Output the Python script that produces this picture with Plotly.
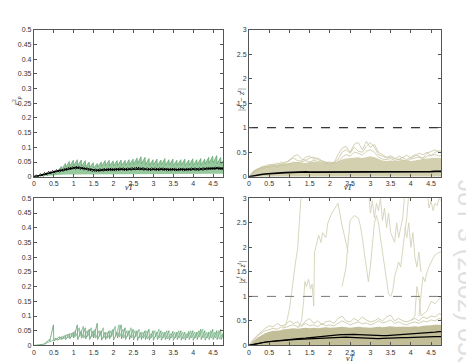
import plotly.graph_objects as go

# ---------------- data ----------------
T = [round(0.1 * i, 1) for i in range(49)]          # nu*T grid 0 .. 4.8
xticks = [0, 0.5, 1, 1.5, 2, 2.5, 3, 3.5, 4, 4.5]
xticktext = ["0", "0.5", "1", "1.5", "2", "2.5", "3", "3.5", "4", "4.5"]
yl_ticks = [0, 0.05, 0.1, 0.15, 0.2, 0.25, 0.3, 0.35, 0.4, 0.45, 0.5]
yl_text = ["0", "0.05", "0.1", "0.15", "0.2", "0.25", "0.3", "0.35", "0.4", "0.45", "0.5"]
yr_ticks = [0, 0.5, 1, 1.5, 2, 2.5, 3]
yr_text = ["0", "0.5", "1", "1.5", "2", "2.5", "3"]

# top-left: green ensemble band (sawtooth), lower edge, black mean
tl_trough = [0, 0.002, 0.005, 0.008, 0.01, 0.013, 0.018, 0.025, 0.032, 0.036, 0.038, 0.038,
             0.036, 0.034, 0.032, 0.03, 0.033, 0.036, 0.038, 0.037, 0.037, 0.038, 0.038, 0.039,
             0.04, 0.042, 0.045, 0.044, 0.041, 0.039, 0.04, 0.038, 0.041, 0.039, 0.04, 0.038,
             0.039, 0.04, 0.038, 0.04, 0.039, 0.041, 0.04, 0.043, 0.046, 0.047, 0.044, 0.042]
tl_peak = [0.003, 0.006, 0.01, 0.013, 0.016, 0.022, 0.035, 0.045, 0.052, 0.056, 0.058, 0.057,
           0.055, 0.05, 0.048, 0.045, 0.05, 0.055, 0.056, 0.054, 0.055, 0.057, 0.056, 0.058,
           0.06, 0.064, 0.068, 0.066, 0.062, 0.058, 0.06, 0.057, 0.062, 0.058, 0.06, 0.056,
           0.058, 0.06, 0.057, 0.061, 0.058, 0.062, 0.06, 0.066, 0.07, 0.072, 0.066, 0.063]
tl_lower = [0, 0.001, 0.002, 0.003, 0.004, 0.005, 0.006, 0.007, 0.008, 0.009, 0.01, 0.01,
            0.01, 0.009, 0.009, 0.008, 0.008, 0.009, 0.009, 0.009, 0.009, 0.009, 0.009, 0.009,
            0.009, 0.009, 0.01, 0.01, 0.009, 0.009, 0.009, 0.009, 0.009, 0.009, 0.009, 0.009,
            0.009, 0.009, 0.009, 0.009, 0.009, 0.009, 0.009, 0.01, 0.01, 0.01, 0.01, 0.01, 0.01]
tl_mean = [0, 0.002, 0.006, 0.01, 0.014, 0.017, 0.02, 0.022, 0.025, 0.028, 0.03, 0.031,
           0.029, 0.027, 0.024, 0.022, 0.022, 0.023, 0.024, 0.025, 0.024, 0.025, 0.026, 0.025,
           0.026, 0.027, 0.028, 0.027, 0.026, 0.025, 0.026, 0.025, 0.026, 0.025, 0.024, 0.025,
           0.024, 0.025, 0.024, 0.025, 0.026, 0.025, 0.026, 0.027, 0.028, 0.028, 0.029, 0.028, 0.028]

# top-right: khaki ensemble, black mean
tr_dense = [0, 0.12, 0.17, 0.2, 0.22, 0.23, 0.24, 0.25, 0.26, 0.27, 0.28, 0.3, 0.3, 0.29,
            0.28, 0.3, 0.31, 0.3, 0.29, 0.28, 0.27, 0.28, 0.32, 0.35, 0.37, 0.38, 0.4, 0.4,
            0.38, 0.4, 0.42, 0.4, 0.36, 0.33, 0.32, 0.33, 0.32, 0.33, 0.34, 0.33, 0.32, 0.33,
            0.35, 0.36, 0.37, 0.38, 0.39, 0.38, 0.37]
tr_a = [0, 0.1, 0.15, 0.2, 0.22, 0.25, 0.24, 0.28, 0.26, 0.3, 0.32, 0.42, 0.45, 0.36, 0.34,
        0.38, 0.4, 0.35, 0.32, 0.3, 0.28, 0.3, 0.35, 0.5, 0.55, 0.48, 0.6, 0.52, 0.5, 0.62,
        0.7, 0.6, 0.45, 0.42, 0.38, 0.4, 0.36, 0.42, 0.38, 0.35, 0.4, 0.45, 0.42, 0.38, 0.48,
        0.52, 0.55, 0.5, 0.48]
tr_b = [0, 0.08, 0.14, 0.18, 0.2, 0.22, 0.26, 0.23, 0.3, 0.27, 0.35, 0.38, 0.33, 0.32, 0.4,
        0.42, 0.36, 0.38, 0.33, 0.29, 0.3, 0.27, 0.45, 0.58, 0.62, 0.5, 0.66, 0.7, 0.55, 0.72,
        0.6, 0.66, 0.5, 0.45, 0.4, 0.43, 0.38, 0.35, 0.4, 0.44, 0.38, 0.42, 0.48, 0.45, 0.5,
        0.42, 0.5, 0.53, 0.5]
tr_c = [0, 0.1, 0.12, 0.16, 0.18, 0.2, 0.22, 0.2, 0.24, 0.23, 0.26, 0.3, 0.28, 0.3, 0.33,
        0.3, 0.34, 0.31, 0.3, 0.27, 0.26, 0.28, 0.3, 0.4, 0.45, 0.42, 0.5, 0.48, 0.44, 0.52,
        0.55, 0.5, 0.4, 0.36, 0.35, 0.37, 0.33, 0.36, 0.34, 0.32, 0.36, 0.38, 0.4, 0.36, 0.42,
        0.44, 0.45, 0.42, 0.44]
tr_mean = [0, 0.02, 0.035, 0.045, 0.055, 0.065, 0.07, 0.075, 0.08, 0.085, 0.09, 0.09, 0.095,
           0.1, 0.1, 0.095, 0.095, 0.09, 0.09, 0.09, 0.09, 0.09, 0.095, 0.1, 0.1, 0.1, 0.1,
           0.105, 0.1, 0.1, 0.1, 0.095, 0.095, 0.09, 0.09, 0.09, 0.09, 0.09, 0.095, 0.095, 0.1,
           0.1, 0.1, 0.1, 0.1, 0.105, 0.11, 0.11, 0.11]

# bottom-left: two green sawtooth records (ramp start values / ramp top values)
bl_t0 = [round(0.2 + 0.1 * i, 2) for i in range(46)]
bl_a_low = [0.003, 0.01, 0.015, 0.015, 0.018, 0.02, 0.02, 0.022, 0.025, 0.02, 0.025, 0.022,
            0.02, 0.025, 0.02, 0.018, 0.02, 0.022, 0.018, 0.025, 0.022, 0.02, 0.02, 0.018,
            0.017, 0.02, 0.02, 0.018, 0.017, 0.02, 0.018, 0.02, 0.018, 0.017, 0.02, 0.018,
            0.018, 0.02, 0.017, 0.02, 0.02, 0.018, 0.02, 0.02, 0.02, 0.02]
bl_a_high = [0.005, 0.02, 0.07, 0.025, 0.03, 0.035, 0.04, 0.045, 0.07, 0.05, 0.06, 0.055,
             0.05, 0.075, 0.05, 0.045, 0.05, 0.055, 0.045, 0.07, 0.06, 0.05, 0.055, 0.05,
             0.045, 0.05, 0.055, 0.05, 0.045, 0.05, 0.045, 0.05, 0.048, 0.045, 0.05, 0.045,
             0.048, 0.05, 0.045, 0.055, 0.05, 0.045, 0.055, 0.05, 0.055, 0.05]
bl_b_low = [0.005, 0.01, 0.015, 0.018, 0.02, 0.022, 0.025, 0.028, 0.03, 0.03, 0.025, 0.03,
            0.028, 0.025, 0.03, 0.025, 0.025, 0.03, 0.03, 0.028, 0.025, 0.03, 0.025, 0.028,
            0.025, 0.025, 0.022, 0.025, 0.028, 0.025, 0.025, 0.022, 0.025, 0.025, 0.025, 0.022,
            0.025, 0.025, 0.025, 0.028, 0.025, 0.025, 0.025, 0.025, 0.022, 0.025]
bl_b_high = [0.01, 0.015, 0.025, 0.03, 0.032, 0.038, 0.042, 0.05, 0.06, 0.065, 0.05, 0.06,
             0.055, 0.05, 0.06, 0.045, 0.05, 0.065, 0.07, 0.055, 0.05, 0.06, 0.05, 0.055,
             0.045, 0.05, 0.04, 0.05, 0.055, 0.045, 0.05, 0.04, 0.045, 0.05, 0.045, 0.04,
             0.05, 0.045, 0.05, 0.055, 0.045, 0.05, 0.045, 0.05, 0.04, 0.045]

# bottom-right: khaki ensemble, excursions, two black means
br_dense = [0, 0.08, 0.15, 0.2, 0.25, 0.28, 0.3, 0.3, 0.32, 0.33, 0.34, 0.35, 0.34, 0.35,
            0.36, 0.35, 0.36, 0.35, 0.36, 0.37, 0.36, 0.36, 0.37, 0.38, 0.37, 0.36, 0.37, 0.38,
            0.37, 0.36, 0.36, 0.37, 0.38, 0.37, 0.38, 0.39, 0.38, 0.38, 0.37, 0.37, 0.38, 0.39,
            0.38, 0.4, 0.4, 0.41, 0.42, 0.42, 0.42]
br_a = [0, 0.12, 0.2, 0.28, 0.35, 0.4, 0.38, 0.45, 0.4, 0.42, 0.5, 0.45, 0.48, 0.4, 0.5, 0.55,
        0.45, 0.5, 0.42, 0.48, 0.5, 0.45, 0.55, 0.6, 0.5, 0.48, 0.55, 0.5, 0.58, 0.52, 0.48,
        0.5, 0.55, 0.5, 0.58, 0.62, 0.5, 0.55, 0.5, 0.48, 0.52, 0.55, 0.5, 0.58, 0.55, 0.6,
        0.58, 0.65, 0.6]
br_b = [0, 0.1, 0.18, 0.25, 0.3, 0.32, 0.35, 0.33, 0.38, 0.36, 0.4, 0.42, 0.38, 0.4, 0.45,
        0.4, 0.42, 0.38, 0.45, 0.4, 0.42, 0.4, 0.45, 0.5, 0.46, 0.42, 0.45, 0.48, 0.44, 0.46,
        0.42, 0.45, 0.5, 0.46, 0.48, 0.52, 0.45, 0.48, 0.44, 0.42, 0.46, 0.48, 0.45, 0.5,
        0.48, 0.52, 0.5, 0.55, 0.52]
br_mean_a = [0, 0.02, 0.04, 0.055, 0.07, 0.08, 0.09, 0.1, 0.11, 0.115, 0.12, 0.13, 0.14,
             0.145, 0.15, 0.16, 0.17, 0.175, 0.18, 0.19, 0.2, 0.21, 0.215, 0.22, 0.225, 0.23,
             0.225, 0.22, 0.215, 0.21, 0.2, 0.2, 0.195, 0.2, 0.2, 0.205, 0.21, 0.215, 0.22,
             0.225, 0.23, 0.24, 0.245, 0.25, 0.26, 0.265, 0.27, 0.28, 0.285]
br_mean_b = [0, 0.02, 0.04, 0.055, 0.065, 0.075, 0.085, 0.09, 0.1, 0.105, 0.11, 0.12, 0.125,
             0.13, 0.135, 0.14, 0.145, 0.15, 0.15, 0.155, 0.16, 0.16, 0.165, 0.17, 0.17,
             0.165, 0.16, 0.16, 0.155, 0.15, 0.15, 0.145, 0.14, 0.145, 0.15, 0.15, 0.155,
             0.155, 0.16, 0.16, 0.165, 0.165, 0.17, 0.17, 0.175, 0.175, 0.18, 0.18, 0.18]
br_exc = [
    ([0.8, 0.9, 0.95, 1.0, 1.05, 1.1, 1.15, 1.2, 1.25, 1.3],
     [0.3, 0.4, 0.55, 0.75, 1.05, 1.4, 1.7, 1.95, 2.5, 3.2]),
    ([1.2, 1.3, 1.35, 1.38, 1.42, 1.47, 1.52, 1.56, 1.6, 1.62, 1.68, 1.72, 1.78, 1.82, 1.9,
      1.95, 2.05, 2.15, 2.2, 2.3, 2.4, 2.45],
     [0.35, 0.5, 0.9, 1.3, 1.2, 1.35, 1.15, 1.25, 0.8, 1.9, 2.1, 2.25, 2.1, 2.3, 2.2, 2.5,
      2.7, 2.85, 2.9, 2.45, 2.1, 1.9]),
    ([2.3, 2.4, 2.45, 2.5, 2.6, 2.7, 2.75, 2.8, 2.9, 2.95, 3.0, 3.05, 3.1, 3.15, 3.2, 3.3,
      3.4, 3.45, 3.5, 3.55, 3.6, 3.7, 3.75, 3.8, 3.85, 3.9, 3.95],
     [1.2, 1.6, 2.1, 2.55, 2.65, 2.6, 2.45, 2.2, 1.6, 1.3, 1.6, 2.0, 2.5, 2.65, 2.5, 1.9,
      1.3, 1.05, 1.0, 1.1, 1.4, 1.7, 1.6, 2.0, 2.3, 2.6, 3.1]),
    ([2.95, 3.0, 3.05, 3.1, 3.15, 3.2, 3.25, 3.3, 3.35, 3.4, 3.45, 3.5, 3.6, 3.65, 3.7, 3.8,
      3.85],
     [3.2, 2.7, 2.95, 2.6, 2.9, 2.75, 3.0, 2.55, 2.8, 2.4, 2.7, 2.3, 2.1, 2.5, 2.2, 2.6, 3.1]),
    ([3.85, 3.9, 3.95, 4.0, 4.05, 4.1, 4.15, 4.2, 4.25],
     [2.4, 2.2, 2.5, 2.0, 2.3, 1.8, 1.6, 1.9, 1.5]),
    ([4.2, 4.25, 4.3, 4.35, 4.4, 4.45, 4.5, 4.6, 4.7, 4.8],
     [0.6, 1.0, 1.4, 1.3, 1.5, 1.6, 1.7, 1.85, 1.9, 1.9]),
    ([4.4, 4.45, 4.5, 4.55, 4.6, 4.65, 4.7, 4.8],
     [3.2, 2.8, 2.95, 2.75, 2.9, 2.85, 3.0, 2.9]),
    ([4.0, 4.1, 4.15, 4.2, 4.25, 4.4, 4.5, 4.6, 4.7, 4.8],
     [0.5, 0.6, 1.2, 1.0, 0.6, 0.7, 0.9, 0.85, 0.95, 1.0]),
]

# ---------------- styling ----------------
GREEN_FILL = "rgba(140,195,148,0.9)"
GREEN_LINE = "#5f9f6e"
KHAKI_FILL_TOP = "#d3d0b0"
KHAKI_FILL_BOT = "#c2be98"
KHAKI_LINE = "#c8c4a0"
KHAKI_LIGHT = "#d4d1b8"

fig = go.Figure()


def saw(t0, low, high, dt=0.09):
    xs, ys = [], []
    for t, lo, hi in zip(t0, low, high):
        xs += [t, round(t + dt, 3)]
        ys += [lo, hi]
    return xs, ys


# top-left
sx, sy = saw([round(0.1 * i, 2) for i in range(48)], tl_trough, tl_peak)
fig.add_trace(go.Scatter(x=sx + T[::-1], y=sy + tl_lower[::-1], fill="toself",
                         fillcolor=GREEN_FILL, line=dict(width=0), mode="lines",
                         xaxis="x", yaxis="y", hoverinfo="skip"))
fig.add_trace(go.Scatter(x=sx, y=sy, mode="lines", line=dict(color=GREEN_LINE, width=0.7),
                         xaxis="x", yaxis="y"))
fig.add_trace(go.Scatter(x=T, y=tl_mean, mode="lines+markers",
                         line=dict(color="black", width=1.3),
                         marker=dict(symbol="x-thin", size=3, line=dict(width=1, color="black")),
                         xaxis="x", yaxis="y"))

# top-right
fig.add_trace(go.Scatter(x=T + T[::-1], y=tr_dense + [0] * len(T), fill="toself",
                         fillcolor=KHAKI_FILL_TOP, line=dict(width=0), mode="lines",
                         xaxis="x2", yaxis="y2"))
for arr in (tr_a, tr_b, tr_c):
    fig.add_trace(go.Scatter(x=T, y=arr, mode="lines", line=dict(color=KHAKI_LINE, width=0.8),
                             xaxis="x2", yaxis="y2"))
fig.add_trace(go.Scatter(x=[0, 4.8], y=[1, 1], mode="lines",
                         line=dict(color="black", width=1, dash="dash"), xaxis="x2", yaxis="y2"))
fig.add_trace(go.Scatter(x=T, y=tr_mean, mode="lines", line=dict(color="black", width=1.6),
                         xaxis="x2", yaxis="y2"))

# bottom-left
ax_, ay_ = saw(bl_t0, bl_a_low, bl_a_high)
bx_, by_ = saw([round(t + 0.05, 2) for t in bl_t0], bl_b_low, bl_b_high)
fig.add_trace(go.Scatter(x=[0, 0.2] + ax_, y=[0, 0.002] + ay_, mode="lines",
                         line=dict(color=GREEN_LINE, width=0.8), xaxis="x3", yaxis="y3"))
fig.add_trace(go.Scatter(x=bx_, y=by_, mode="lines",
                         line=dict(color="#79b486", width=0.8), xaxis="x3", yaxis="y3"))

# bottom-right
fig.add_trace(go.Scatter(x=T + T[::-1], y=br_dense + [0] * len(T), fill="toself",
                         fillcolor=KHAKI_FILL_BOT, line=dict(width=0), mode="lines",
                         xaxis="x4", yaxis="y4"))
for arr in (br_a, br_b):
    fig.add_trace(go.Scatter(x=T, y=arr, mode="lines", line=dict(color=KHAKI_LINE, width=0.8),
                             xaxis="x4", yaxis="y4"))
for ex, ey in br_exc:
    fig.add_trace(go.Scatter(x=ex, y=ey, mode="lines", line=dict(color=KHAKI_LIGHT, width=0.9),
                             xaxis="x4", yaxis="y4"))
fig.add_trace(go.Scatter(x=[0, 4.8], y=[1, 1], mode="lines",
                         line=dict(color="#777777", width=1, dash="dash"), xaxis="x4", yaxis="y4"))
fig.add_trace(go.Scatter(x=T, y=br_mean_a, mode="lines", line=dict(color="black", width=1.2),
                         xaxis="x4", yaxis="y4"))
fig.add_trace(go.Scatter(x=T, y=br_mean_b, mode="lines", line=dict(color="black", width=1.2),
                         xaxis="x4", yaxis="y4"))

W, H = 474, 362
XL = [24 / W, 214 / W]
XR = [240 / W, 433 / W]
YT = [(H - 168) / H, (H - 18) / H]
YB = [(H - 340) / H, (H - 190) / H]

tickfont = dict(family="Liberation Sans, Arial, sans-serif", size=7, color="#333333")


def xax(domain, anchor):
    return dict(domain=domain, anchor=anchor, range=[0, 4.75], tickvals=xticks,
                ticktext=xticktext, ticks="inside", ticklen=3, tickcolor="#555555",
                showline=True, linecolor="#555555", linewidth=1, mirror="ticks",
                showgrid=False, zeroline=False, tickfont=tickfont)


def yax(domain, anchor, rng, tv, tt):
    return dict(domain=domain, anchor=anchor, range=rng, tickvals=tv, ticktext=tt,
                ticks="inside", ticklen=3, tickcolor="#555555", showline=True,
                linecolor="#555555", linewidth=1, mirror="ticks", showgrid=False,
                zeroline=False, tickfont=tickfont)


fig.update_layout(
    width=W, height=H, margin=dict(l=0, r=0, t=0, b=0),
    paper_bgcolor="white", plot_bgcolor="white", showlegend=False,
    xaxis=xax(XL, "y"), yaxis=yax(YT, "x", [0, 0.5], yl_ticks, yl_text),
    xaxis2=xax(XR, "y2"), yaxis2=yax(YT, "x2", [0, 3], yr_ticks, yr_text),
    xaxis3=xax(XL, "y3"), yaxis3=yax(YB, "x3", [0, 0.5], yl_ticks, yl_text),
    xaxis4=xax(XR, "y4"), yaxis4=yax(YB, "x4", [0, 3], yr_ticks, yr_text),
)

lab = dict(family="Liberation Serif, serif", size=8, color="#222222")
ann = [
    dict(x=120 / W, y=(H - 179) / H, text="<i>νT</i>"),
    dict(x=340 / W, y=(H - 179) / H, text="<i>νT</i>"),
    dict(x=342 / W, y=(H - 353) / H, text="<i>νT</i>"),
    dict(x=6 / W, y=(H - 90) / H, text="<i>ε</i><sup>2</sup><sub><i>p</i></sub>", textangle=-90),
    dict(x=232 / W, y=(H - 90) / H, text="<i>|z<sup>f</sup> − z<sup>t</sup>|</i>", textangle=-90),
    dict(x=232 / W, y=(H - 266) / H, text="<i>|z<sup>f</sup> − z<sup>t</sup>|</i>", textangle=-90),
]
for a in ann:
    fig.add_annotation(xref="paper", yref="paper", showarrow=False, font=lab,
                       xanchor="center", yanchor="middle", **a)

fig.add_annotation(xref="paper", yref="paper", x=459 / W, y=(H - 268) / H,
                   text="JoT 3 (2002) 053", textangle=90, showarrow=False,
                   font=dict(family="Liberation Sans, Arial, sans-serif", size=25,
                             color="#e0e0e0"),
                   xanchor="center", yanchor="middle")

fig.write_html("out.html")
